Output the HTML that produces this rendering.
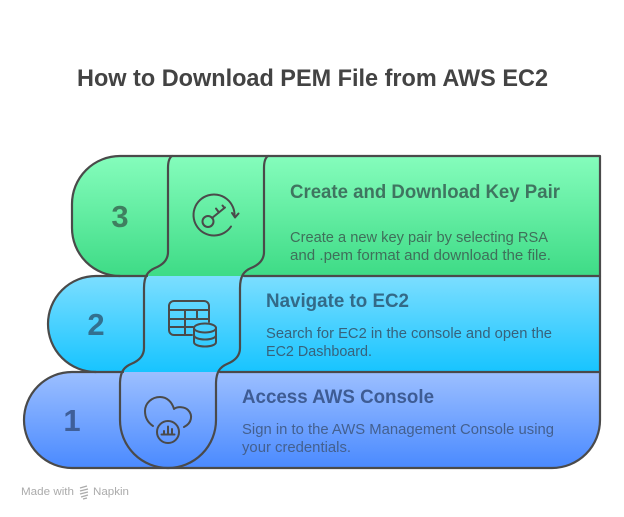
<!DOCTYPE html>
<html><head><meta charset="utf-8"><style>
html,body{margin:0;padding:0;background:#fff}
svg{display:block}
text{font-family:"Liberation Sans",sans-serif}
.h{font-weight:700;font-size:19px}
.b{font-size:14.5px}
.n{font-weight:700;font-size:31px;text-anchor:middle}
.s{fill:none;stroke:#4a4a4a;stroke-width:2.200;stroke-linecap:round;stroke-linejoin:round}
.i{fill:none;stroke:#4a4a4a;stroke-width:2;stroke-linecap:round;stroke-linejoin:round}
</style></head><body>
<svg width="624" height="517" viewBox="0 0 624 517" xmlns="http://www.w3.org/2000/svg">
<defs>
<linearGradient id="g3" x1="0" y1="0" x2="0" y2="1"><stop offset="0" stop-color="#85fdbc"/><stop offset="1" stop-color="#3edb86"/></linearGradient>
<linearGradient id="g2" x1="0" y1="0" x2="0" y2="1"><stop offset="0" stop-color="#7cdeff"/><stop offset="1" stop-color="#17c4ff"/></linearGradient>
<linearGradient id="g1" x1="0" y1="0" x2="0" y2="1"><stop offset="0" stop-color="#9cbfff"/><stop offset="1" stop-color="#4a8aff"/></linearGradient>
</defs>
<rect width="624" height="517" fill="#fff"/>
<text x="77" y="86" font-weight="700" fill="#434343" textLength="471" lengthAdjust="spacingAndGlyphs" style="font-size:24px">How to Download PEM File from AWS EC2</text>

<!-- bands -->
<path d="M120 156H600V276H120A48 48 0 0 1 72 228V204A48 48 0 0 1 120 156Z" fill="url(#g3)"/>
<path d="M96 276H600V372H96A48 48 0 0 1 48 324A48 48 0 0 1 96 276Z" fill="url(#g2)"/>
<path d="M72 372H600V420A48 48 0 0 1 552 468H72A48 48 0 0 1 24 420A48 48 0 0 1 72 372Z" fill="url(#g1)"/>

<!-- outer outlines -->
<path class="s" d="M147 276H96A48 48 0 0 0 48 324A48 48 0 0 0 96 372"/>
<path class="s" d="M123 372H72A48 48 0 0 0 24 420A48 48 0 0 0 72 468H552A48 48 0 0 0 600 420V156H120A48 48 0 0 0 72 204V228A48 48 0 0 0 120 276"/>
<path class="s" d="M244 276H600M220 372H600"/>

<!-- column dividers -->
<path class="s" d="M172 156C169 158 168 162 168 168V252C168 262 160 266 155 268C148 271 144 276 144 288V348C144 358 136 362 131 364C124 367 120 372 120 384V420A48 48 0 0 0 168 468A48 48 0 0 0 216 420V384C216 372 220 367 227 364C232 362 240 358 240 348V288C240 276 244 271 251 268C256 266 264 262 264 252V168C264 162 265 158 268 156"/>

<!-- numbers -->
<text class="n" x="120" y="227" fill="#3f7f60">3</text>
<text class="n" x="96" y="335" fill="#33708f">2</text>
<text class="n" x="72" y="431" fill="#3f5f99">1</text>

<!-- key icon -->
<g class="i">
<path d="M234.500 216A20.500 20.500 0 1 0 231 226.500"/>
<path d="M232 213L235 217.500L238.500 213.500"/>
<circle cx="208" cy="221.500" r="5.500"/>
<path d="M212 218L225 207.500M219 212.500L216 208.500M224.500 208L222.500 205.500"/>
</g>

<!-- table + db icon -->
<g class="i">
<path d="M192 335H174A5 5 0 0 1 169 330V306A5 5 0 0 1 174 301H204A5 5 0 0 1 209 306V322"/>
<path d="M169 310H209M169 319H209M169 327H193M185 310V335M197 310V319"/>
<ellipse cx="205" cy="328" rx="11" ry="4.500"/>
<path d="M194 328V342C194 348 216 348 216 342V328M194 335C194 341 216 341 216 335"/>
</g>

<!-- cloud icon -->
<g class="i">
<path d="M153 426C147 422 145 417 145 411C145 403 152 397 160 397C167 397 172 402 174 409C178 406 185 407 188 410C193 415 192 423 184 427"/>
<circle cx="168" cy="432" r="11"/>
<path d="M161.500 434.500H174.500M164 434.500V431M168 434.500V426.500M172 434.500V429"/>
</g>

<!-- step 3 text -->
<text class="h" x="290" y="198" fill="#3f7560" textLength="270" lengthAdjust="spacingAndGlyphs">Create and Download Key Pair</text>
<text class="b" x="290" y="242" fill="#3f6f5a" textLength="258" lengthAdjust="spacingAndGlyphs">Create a new key pair by selecting RSA</text>
<text class="b" x="290" y="260" fill="#3f6f5a" textLength="261" lengthAdjust="spacingAndGlyphs">and .pem format and download the file.</text>

<!-- step 2 text -->
<text class="h" x="266" y="307" fill="#336a88" textLength="143" lengthAdjust="spacingAndGlyphs">Navigate to EC2</text>
<text class="b" x="266" y="338" fill="#37627c" textLength="286" lengthAdjust="spacingAndGlyphs">Search for EC2 in the console and open the</text>
<text class="b" x="266" y="356" fill="#37627c" textLength="106" lengthAdjust="spacingAndGlyphs">EC2 Dashboard.</text>

<!-- step 1 text -->
<text class="h" x="242" y="403" fill="#3e5c94" textLength="192" lengthAdjust="spacingAndGlyphs">Access AWS Console</text>
<text class="b" x="242" y="434" fill="#44608f" textLength="312" lengthAdjust="spacingAndGlyphs">Sign in to the AWS Management Console using</text>
<text class="b" x="242" y="452" fill="#44608f" textLength="109" lengthAdjust="spacingAndGlyphs">your credentials.</text>

<!-- footer -->
<text x="21" y="495" fill="#ababab" textLength="53" lengthAdjust="spacingAndGlyphs" style="font-size:11px">Made with</text>
<path d="M80 488L87 486M80 491L88 489M80 494L88 492M81 497L88 495M83 499L87 498" fill="none" stroke="#ababab" stroke-width="1.300"/>
<text x="93" y="495" fill="#ababab" textLength="36" lengthAdjust="spacingAndGlyphs" style="font-size:11px">Napkin</text>
</svg>
</body></html>
